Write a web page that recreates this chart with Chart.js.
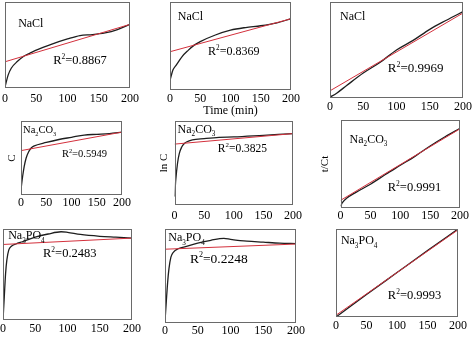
<!DOCTYPE html>
<html>
<head>
<meta charset="utf-8">
<script src="https://cdn.jsdelivr.net/npm/chart.js@4.4.1/dist/chart.umd.min.js"></script>
<style>
html, body { margin: 0; padding: 0; background: #fff; }
#fig { position: relative; width: 474px; height: 339px; overflow: hidden; }
#fig canvas { position: absolute; }
</style>
</head>
<body>
<div id="fig"></div>
<script>
// time (min) at the two ends of every fitted line
const fitT = [0, 200]

// NaCl: C, ln C, t/Ct  (y as fraction of the frame height)
const naclCT = [0, 5, 10, 20, 30, 40, 50, 75, 100, 120, 140, 160, 180, 200]
const naclC = [0.01, 0.15, 0.23, 0.31, 0.37, 0.405, 0.44, 0.51, 0.57, 0.61, 0.62, 0.64, 0.68, 0.74]
const naclCFit = [0.305, 0.74]

const naclLnT = [0, 5, 10, 20, 30, 40, 50, 75, 100, 125, 150, 175, 200]
const naclLn = [0.11, 0.23, 0.28, 0.38, 0.45, 0.51, 0.55, 0.625, 0.68, 0.71, 0.73, 0.76, 0.81]
const naclLnFit = [0.435, 0.81]

const naclTcT = [0, 10, 25, 50, 75, 100, 125, 150, 175, 200]
const naclTc = [0.01, 0.05, 0.13, 0.26, 0.37, 0.50, 0.60, 0.715, 0.81, 0.90]
const naclTcFit = [0.075, 0.885]

// Na2CO3
const carbCT = [0, 3, 6, 10, 15, 20, 25, 50, 75, 100, 125, 150, 175, 200]
const carbC = [0.09, 0.25, 0.38, 0.50, 0.585, 0.635, 0.66, 0.71, 0.75, 0.78, 0.81, 0.82, 0.83, 0.85]
const carbCFit = [0.60, 0.85]

const carbLnT = [0, 2, 5, 8, 12, 16, 20, 30, 50, 75, 100, 150, 200]
const carbLn = [0.10, 0.30, 0.50, 0.615, 0.69, 0.73, 0.75, 0.775, 0.79, 0.805, 0.81, 0.83, 0.85]
const carbLnFit = [0.725, 0.85]

const carbTcT = [0, 3, 10, 25, 50, 75, 100, 125, 150, 175, 200]
const carbTc = [0.02, 0.06, 0.11, 0.175, 0.27, 0.38, 0.485, 0.59, 0.705, 0.81, 0.905]
const carbTcFit = [0.087, 0.90]

// Na3PO4
const phosCT = [0, 2, 4, 6, 9, 13, 20, 30, 50, 70, 90, 100, 120, 150, 175, 200]
const phosC = [0, 0.256, 0.51, 0.66, 0.77, 0.81, 0.835, 0.86, 0.91, 0.945, 0.97, 0.963, 0.94, 0.92, 0.91, 0.90]
const phosCFit = [0.83, 0.90]

const phosLnT = [0, 2, 4, 6, 9, 13, 20, 30, 50, 70, 90, 100, 125, 150, 175, 200]
const phosLn = [0.02, 0.23, 0.43, 0.575, 0.70, 0.755, 0.79, 0.81, 0.85, 0.88, 0.90, 0.89, 0.87, 0.86, 0.85, 0.845]
const phosLnFit = [0.785, 0.84]

const phosTcT = [0, 50, 100, 150, 200]
const phosTc = [0, 0.255, 0.505, 0.755, 1.0]
const phosTcFit = [0.02, 0.99]

const xTicks = [0, 50, 100, 150, 200]
const SERIF = '"Liberation Serif", "Times New Roman", serif'

// frame = [left, top, right, bottom] in page px
const panels = [
  { frame: [5, 2, 130, 88], t: naclCT, y: naclC, fit: naclCFit, salt: 'NaCl', r2: 'R^2=0.8867',
    saltAt: [21, 0.71, 12], r2At: [77, 0.28, 12.5], tickPad: 4 },
  { frame: [170, 2, 291, 90], t: naclLnT, y: naclLn, fit: naclLnFit, salt: 'NaCl', r2: 'R^2=0.8369',
    saltAt: [13, 0.80, 12], r2At: [63, 0.40, 12], tickPad: 2, xTitle: 'Time (min)' },
  { frame: [330, 2, 463, 98], t: naclTcT, y: naclTc, fit: naclTcFit, salt: 'NaCl', r2: 'R^2=0.9969',
    saltAt: [15, 0.81, 12], r2At: [87, 0.27, 13], tickPad: 2 },
  { frame: [21, 121, 122, 195], t: carbCT, y: carbC, fit: carbCFit, salt: 'Na_2CO_3', r2: 'R^2=0.5949',
    saltAt: [4, 0.84, 10.5], r2At: [81, 0.51, 10.5], tickPad: 1, yTitle: 'C', yGap: 8.5 },
  { frame: [175, 121, 293, 205], t: carbLnT, y: carbLn, fit: carbLnFit, salt: 'Na_2CO_3', r2: 'R^2=0.3825',
    saltAt: [5, 0.86, 12], r2At: [73, 0.63, 11.5], tickPad: 4, yTitle: 'ln C', yGap: 10 },
  { frame: [341, 120, 460, 208], t: carbTcT, y: carbTc, fit: carbTcFit, salt: 'Na_2CO_3', r2: 'R^2=0.9991',
    saltAt: [15, 0.74, 12], r2At: [79, 0.19, 12.5], tickPad: 1, yTitle: 't/Ct', yGap: 15 },
  { frame: [3, 229, 132, 320], t: phosCT, y: phosC, fit: phosCFit, salt: 'Na_3PO_4', r2: 'R^2=0.2483',
    saltAt: [8, 0.89, 12], r2At: [62, 0.69, 12.5], tickPad: 2 },
  { frame: [165, 229, 296, 323], t: phosLnT, y: phosLn, fit: phosLnFit, salt: 'Na_3PO_4', r2: 'R^2=0.2248',
    saltAt: [5, 0.87, 12], r2At: [38, 0.64, 13.5], tickPad: 1 },
  { frame: [336, 229, 458, 317], t: phosTcT, y: phosTc, fit: phosTcFit, salt: 'Na_3PO_4', r2: 'R^2=0.9993',
    saltAt: [8, 0.83, 12], r2At: [85, 0.20, 12.5], tickPad: 2 }
]

// text with _x subscripts and ^x superscripts
function drawRich(ctx, str, x, y, size) {
  let i = 0
  while (i < str.length) {
    let ch = str[i], dy = 0, s = size
    if (ch === '_' || ch === '^') {
      dy = ch === '_' ? size * 0.3 : -size * 0.4
      s = size * 0.6
      ch = str[++i]
    }
    ctx.font = s + 'px ' + SERIF
    ctx.fillText(ch, x, y + dy)
    x += ctx.measureText(ch).width
    i++
  }
}

const notes = {
  id: 'notes',
  afterDraw(chart) {
    const { ctx, chartArea: a, scales } = chart
    const p = chart.options.plugins.notes
    ctx.save()
    ctx.strokeStyle = '#6a6a6a'
    ctx.lineWidth = 1
    ctx.strokeRect(Math.round(a.left) + 0.5, Math.round(a.top) + 0.5,
      Math.round(a.right - a.left) - 1, Math.round(a.bottom - a.top) - 1)
    ctx.fillStyle = '#000'
    ctx.textBaseline = 'alphabetic'
    for (const [txt, at] of [[p.salt, p.saltAt], [p.r2, p.r2At]]) {
      drawRich(ctx, txt, scales.x.getPixelForValue(at[0]), scales.y.getPixelForValue(at[1]), at[2])
    }
    ctx.restore()
  }
}

const fig = document.getElementById('fig')
const padT = 4, padR = 14

panels.forEach(p => {
  const [l, t, r, b] = p.frame
  const yW = p.yTitle ? p.yGap + 6.6 : 10
  const xH = p.tickPad + 16 + (p.xTitle ? 10 : 0)
  const cv = document.createElement('canvas')
  cv.width = Math.round(yW + (r - l) + padR)
  cv.height = Math.round(padT + (b - t) + xH)
  cv.style.left = (l - yW) + 'px'
  cv.style.top = (t - padT) + 'px'
  fig.appendChild(cv)

  new Chart(cv, {
    type: 'line',
    data: {
      datasets: [
        {
          data: fitT.map((x, i) => ({ x, y: p.fit[i] })),
          borderColor: '#d3303c', borderWidth: 1, pointRadius: 0
        },
        {
          data: p.t.map((x, i) => ({ x, y: p.y[i] })),
          borderColor: '#1e1e1e', borderWidth: 1.3, pointRadius: 0,
          cubicInterpolationMode: 'monotone'
        }
      ]
    },
    options: {
      responsive: false,
      animation: false,
      events: [],
      layout: { padding: { top: padT, right: padR, left: 0, bottom: 0 } },
      plugins: {
        legend: { display: false },
        tooltip: { enabled: false },
        notes: { salt: p.salt, saltAt: p.saltAt, r2: p.r2, r2At: p.r2At }
      },
      scales: {
        x: {
          type: 'linear', min: 0, max: 200,
          afterBuildTicks: s => { s.ticks = xTicks.map(v => ({ value: v })) },
          afterFit: s => { s.height = xH },
          grid: { display: false, drawTicks: false },
          border: { display: false },
          ticks: { color: '#000', padding: p.tickPad, maxRotation: 0, autoSkip: false,
            font: { family: SERIF, size: 12 } },
          title: { display: !!p.xTitle, text: p.xTitle || '', color: '#000', padding: 0,
            font: { family: SERIF, size: 12 } }
        },
        y: {
          min: 0, max: 1,
          afterFit: s => { s.width = yW },
          grid: { display: false, drawTicks: false },
          border: { display: false },
          ticks: { display: false },
          title: { display: !!p.yTitle, text: p.yTitle || '', color: '#000', padding: 0,
            font: { family: SERIF, size: 11 } }
        }
      }
    },
    plugins: [notes]
  })
})
</script>
</body>
</html>
